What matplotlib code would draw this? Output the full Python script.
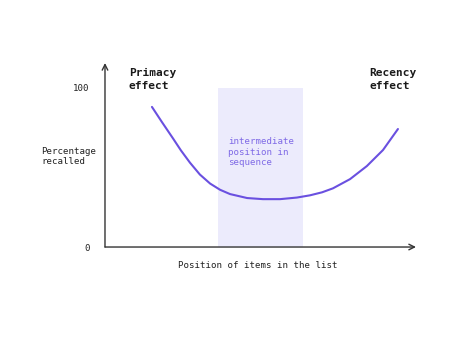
import numpy as np
import matplotlib
matplotlib.use("Agg")
import matplotlib.pyplot as plt

# serial position curve
position = [1.51, 1.83, 2.19, 2.44, 2.73, 3.05, 3.38, 3.70, 4.02, 4.57,
            5.08, 5.63, 6.17, 6.59, 6.98, 7.33, 7.88, 8.42, 8.94, 9.42]
recalled = [88.1, 78.6, 68.2, 60.8, 53.1, 45.6, 39.9, 36.0, 33.3, 30.8,
            30.1, 30.1, 31.1, 32.5, 34.4, 36.9, 42.7, 50.9, 61.0, 74.2]
middle_span = [3.63, 6.37]
middle_top = 100
y_ticks = [0, 100]
y_ticklabels = ["0", "100"]

plt.rcParams['font.family'] = ['DejaVu Sans Mono']

fig = plt.figure(figsize=(4.74, 3.37), dpi=100)
ax = fig.add_axes([0.2215, 0.267, 0.6561, 0.546])
ax.set_xlim(0, 10)
ax.set_ylim(0, 115.7)

for s in ax.spines.values():
    s.set_visible(False)
ax.set_xticks([])
ax.set_yticks(y_ticks)
ax.set_yticklabels(y_ticklabels, fontsize=6.6, color='#222222')
ax.tick_params(axis='y', length=0, pad=11)

# axes with arrow heads
arrow = dict(arrowstyle='->', lw=1.0, color='#333333', shrinkA=0, shrinkB=0,
             mutation_scale=10)
ax.annotate('', xy=(0, 1), xytext=(0, 0), xycoords='axes fraction', arrowprops=arrow)
ax.annotate('', xy=(1, 0), xytext=(0, 0), xycoords='axes fraction', arrowprops=arrow)

ax.fill_between(middle_span, 0, middle_top, color='#ecebfc', lw=0, zorder=1)
ax.plot(position, recalled, color='#6a50e0', lw=1.5, solid_capstyle='round',
        solid_joinstyle='round', zorder=3)

ax.text(3.95, 59.7, "intermediate\nposition in\nsequence", fontsize=6.6,
        color='#7f6ae6', va='center', ha='left', linespacing=1.25)
ax.text(0.77, 105.3, "Primacy\neffect", fontsize=8, fontweight='bold',
        color='#1a1a1a', va='center', ha='left', linespacing=1.35, clip_on=False)
ax.text(8.49, 105.3, "Recency\neffect", fontsize=8, fontweight='bold',
        color='#1a1a1a', va='center', ha='left', linespacing=1.35, clip_on=False)
ax.text(-2.06, 56.9, "Percentage\nrecalled", fontsize=6.6, color='#222222',
        va='center', ha='left', linespacing=1.2, clip_on=False)
ax.text(4.92, -11.9, "Position of items in the list", fontsize=6.6,
        color='#222222', va='center', ha='center', clip_on=False)

fig.savefig("out.png", dpi=100)
